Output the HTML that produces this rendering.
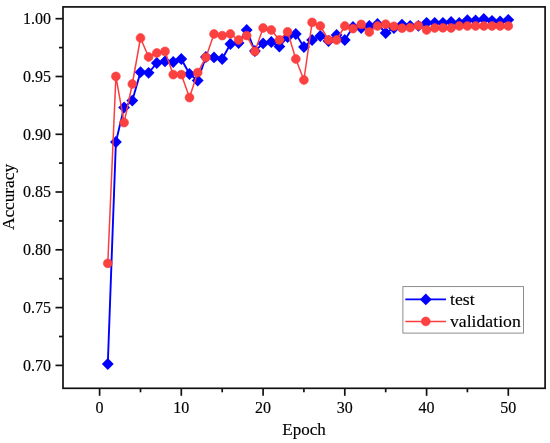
<!DOCTYPE html>
<html><head><meta charset="utf-8"><title>Accuracy</title>
<style>html,body{margin:0;padding:0;background:#fff}svg{display:block}text{font-family:"Liberation Serif","Times New Roman",serif;fill:#000;stroke:#000;stroke-width:0.15px}</style></head><body>
<svg width="550" height="443" viewBox="0 0 550 443">
<rect width="550" height="443" fill="#fff"/>
<polyline points="107.8,364.0 115.9,142.0 124.1,107.4 132.3,100.6 140.5,72.2 148.6,72.8 156.8,63.0 165.0,61.4 173.2,62.0 181.3,59.0 189.5,74.0 197.7,80.5 205.9,57.0 214.0,57.4 222.2,59.0 230.4,44.0 238.6,43.0 246.7,30.0 254.9,51.0 263.1,43.4 271.3,42.0 279.4,46.6 287.6,37.0 295.8,34.0 303.9,47.0 312.1,40.0 320.3,36.0 328.5,41.0 336.6,35.0 344.8,40.0 353.0,27.0 361.2,28.0 369.3,26.0 377.5,24.0 385.7,33.0 393.9,28.0 402.0,24.6 410.2,25.8 418.4,25.8 426.6,22.8 434.7,22.8 442.9,22.8 451.1,22.0 459.3,23.0 467.4,20.2 475.6,20.4 483.8,19.0 492.0,20.8 500.1,21.4 508.3,19.8" fill="none" stroke="#0000ff" stroke-width="1.9" stroke-linejoin="round"/>
<path d="M107.8 358.1L113.7 364.0L107.8 369.9L101.9 364.0Z" fill="#0000ff"/>
<path d="M115.9 136.1L121.8 142.0L115.9 147.9L110.0 142.0Z" fill="#0000ff"/>
<path d="M124.1 101.5L130.0 107.4L124.1 113.3L118.2 107.4Z" fill="#0000ff"/>
<path d="M132.3 94.7L138.2 100.6L132.3 106.5L126.4 100.6Z" fill="#0000ff"/>
<path d="M140.5 66.3L146.4 72.2L140.5 78.1L134.6 72.2Z" fill="#0000ff"/>
<path d="M148.6 66.9L154.5 72.8L148.6 78.7L142.7 72.8Z" fill="#0000ff"/>
<path d="M156.8 57.1L162.7 63.0L156.8 68.9L150.9 63.0Z" fill="#0000ff"/>
<path d="M165.0 55.5L170.9 61.4L165.0 67.3L159.1 61.4Z" fill="#0000ff"/>
<path d="M173.2 56.1L179.1 62.0L173.2 67.9L167.3 62.0Z" fill="#0000ff"/>
<path d="M181.3 53.1L187.2 59.0L181.3 64.9L175.4 59.0Z" fill="#0000ff"/>
<path d="M189.5 68.1L195.4 74.0L189.5 79.9L183.6 74.0Z" fill="#0000ff"/>
<path d="M197.7 74.6L203.6 80.5L197.7 86.4L191.8 80.5Z" fill="#0000ff"/>
<path d="M205.9 51.1L211.8 57.0L205.9 62.9L200.0 57.0Z" fill="#0000ff"/>
<path d="M214.0 51.5L219.9 57.4L214.0 63.3L208.1 57.4Z" fill="#0000ff"/>
<path d="M222.2 53.1L228.1 59.0L222.2 64.9L216.3 59.0Z" fill="#0000ff"/>
<path d="M230.4 38.1L236.3 44.0L230.4 49.9L224.5 44.0Z" fill="#0000ff"/>
<path d="M238.6 37.1L244.5 43.0L238.6 48.9L232.7 43.0Z" fill="#0000ff"/>
<path d="M246.7 24.1L252.6 30.0L246.7 35.9L240.8 30.0Z" fill="#0000ff"/>
<path d="M254.9 45.1L260.8 51.0L254.9 56.9L249.0 51.0Z" fill="#0000ff"/>
<path d="M263.1 37.5L269.0 43.4L263.1 49.3L257.2 43.4Z" fill="#0000ff"/>
<path d="M271.3 36.1L277.2 42.0L271.3 47.9L265.4 42.0Z" fill="#0000ff"/>
<path d="M279.4 40.7L285.3 46.6L279.4 52.5L273.5 46.6Z" fill="#0000ff"/>
<path d="M287.6 31.1L293.5 37.0L287.6 42.9L281.7 37.0Z" fill="#0000ff"/>
<path d="M295.8 28.1L301.7 34.0L295.8 39.9L289.9 34.0Z" fill="#0000ff"/>
<path d="M303.9 41.1L309.8 47.0L303.9 52.9L298.1 47.0Z" fill="#0000ff"/>
<path d="M312.1 34.1L318.0 40.0L312.1 45.9L306.2 40.0Z" fill="#0000ff"/>
<path d="M320.3 30.1L326.2 36.0L320.3 41.9L314.4 36.0Z" fill="#0000ff"/>
<path d="M328.5 35.1L334.4 41.0L328.5 46.9L322.6 41.0Z" fill="#0000ff"/>
<path d="M336.6 29.1L342.5 35.0L336.6 40.9L330.7 35.0Z" fill="#0000ff"/>
<path d="M344.8 34.1L350.7 40.0L344.8 45.9L338.9 40.0Z" fill="#0000ff"/>
<path d="M353.0 21.1L358.9 27.0L353.0 32.9L347.1 27.0Z" fill="#0000ff"/>
<path d="M361.2 22.1L367.1 28.0L361.2 33.9L355.3 28.0Z" fill="#0000ff"/>
<path d="M369.3 20.1L375.2 26.0L369.3 31.9L363.4 26.0Z" fill="#0000ff"/>
<path d="M377.5 18.1L383.4 24.0L377.5 29.9L371.6 24.0Z" fill="#0000ff"/>
<path d="M385.7 27.1L391.6 33.0L385.7 38.9L379.8 33.0Z" fill="#0000ff"/>
<path d="M393.9 22.1L399.8 28.0L393.9 33.9L388.0 28.0Z" fill="#0000ff"/>
<path d="M402.0 18.7L407.9 24.6L402.0 30.5L396.1 24.6Z" fill="#0000ff"/>
<path d="M410.2 19.9L416.1 25.8L410.2 31.7L404.3 25.8Z" fill="#0000ff"/>
<path d="M418.4 19.9L424.3 25.8L418.4 31.7L412.5 25.8Z" fill="#0000ff"/>
<path d="M426.6 16.9L432.5 22.8L426.6 28.7L420.7 22.8Z" fill="#0000ff"/>
<path d="M434.7 16.9L440.6 22.8L434.7 28.7L428.8 22.8Z" fill="#0000ff"/>
<path d="M442.9 16.9L448.8 22.8L442.9 28.7L437.0 22.8Z" fill="#0000ff"/>
<path d="M451.1 16.1L457.0 22.0L451.1 27.9L445.2 22.0Z" fill="#0000ff"/>
<path d="M459.3 17.1L465.2 23.0L459.3 28.9L453.4 23.0Z" fill="#0000ff"/>
<path d="M467.4 14.3L473.3 20.2L467.4 26.1L461.5 20.2Z" fill="#0000ff"/>
<path d="M475.6 14.5L481.5 20.4L475.6 26.3L469.7 20.4Z" fill="#0000ff"/>
<path d="M483.8 13.1L489.7 19.0L483.8 24.9L477.9 19.0Z" fill="#0000ff"/>
<path d="M492.0 14.9L497.9 20.8L492.0 26.7L486.1 20.8Z" fill="#0000ff"/>
<path d="M500.1 15.5L506.0 21.4L500.1 27.3L494.2 21.4Z" fill="#0000ff"/>
<path d="M508.3 13.9L514.2 19.8L508.3 25.7L502.4 19.8Z" fill="#0000ff"/>
<polyline points="107.8,263.4 115.9,76.4 124.1,122.6 132.3,84.0 140.5,38.0 148.6,57.0 156.8,53.0 165.0,51.4 173.2,74.6 181.3,74.6 189.5,97.6 197.7,72.6 205.9,57.4 214.0,34.0 222.2,35.6 230.4,34.0 238.6,40.0 246.7,35.6 254.9,51.4 263.1,28.0 271.3,30.0 279.4,40.0 287.6,31.8 295.8,59.0 303.9,80.0 312.1,22.4 320.3,26.0 328.5,40.0 336.6,40.0 344.8,26.0 353.0,28.6 361.2,24.4 369.3,32.0 377.5,26.0 385.7,24.2 393.9,26.3 402.0,28.2 410.2,27.6 418.4,25.6 426.6,30.0 434.7,28.0 442.9,27.8 451.1,28.0 459.3,26.0 467.4,26.0 475.6,26.0 483.8,26.0 492.0,26.0 500.1,26.0 508.3,26.0" fill="none" stroke="#fb3d3d" stroke-width="1.5" stroke-linejoin="round"/>
<circle cx="107.8" cy="263.4" r="4.4" fill="#fc4141" stroke="#fd3434" stroke-width="0.6"/>
<circle cx="115.9" cy="76.4" r="4.4" fill="#fc4141" stroke="#fd3434" stroke-width="0.6"/>
<circle cx="124.1" cy="122.6" r="4.4" fill="#fc4141" stroke="#fd3434" stroke-width="0.6"/>
<circle cx="132.3" cy="84.0" r="4.4" fill="#fc4141" stroke="#fd3434" stroke-width="0.6"/>
<circle cx="140.5" cy="38.0" r="4.4" fill="#fc4141" stroke="#fd3434" stroke-width="0.6"/>
<circle cx="148.6" cy="57.0" r="4.4" fill="#fc4141" stroke="#fd3434" stroke-width="0.6"/>
<circle cx="156.8" cy="53.0" r="4.4" fill="#fc4141" stroke="#fd3434" stroke-width="0.6"/>
<circle cx="165.0" cy="51.4" r="4.4" fill="#fc4141" stroke="#fd3434" stroke-width="0.6"/>
<circle cx="173.2" cy="74.6" r="4.4" fill="#fc4141" stroke="#fd3434" stroke-width="0.6"/>
<circle cx="181.3" cy="74.6" r="4.4" fill="#fc4141" stroke="#fd3434" stroke-width="0.6"/>
<circle cx="189.5" cy="97.6" r="4.4" fill="#fc4141" stroke="#fd3434" stroke-width="0.6"/>
<circle cx="197.7" cy="72.6" r="4.4" fill="#fc4141" stroke="#fd3434" stroke-width="0.6"/>
<circle cx="205.9" cy="57.4" r="4.4" fill="#fc4141" stroke="#fd3434" stroke-width="0.6"/>
<circle cx="214.0" cy="34.0" r="4.4" fill="#fc4141" stroke="#fd3434" stroke-width="0.6"/>
<circle cx="222.2" cy="35.6" r="4.4" fill="#fc4141" stroke="#fd3434" stroke-width="0.6"/>
<circle cx="230.4" cy="34.0" r="4.4" fill="#fc4141" stroke="#fd3434" stroke-width="0.6"/>
<circle cx="238.6" cy="40.0" r="4.4" fill="#fc4141" stroke="#fd3434" stroke-width="0.6"/>
<circle cx="246.7" cy="35.6" r="4.4" fill="#fc4141" stroke="#fd3434" stroke-width="0.6"/>
<circle cx="254.9" cy="51.4" r="4.4" fill="#fc4141" stroke="#fd3434" stroke-width="0.6"/>
<circle cx="263.1" cy="28.0" r="4.4" fill="#fc4141" stroke="#fd3434" stroke-width="0.6"/>
<circle cx="271.3" cy="30.0" r="4.4" fill="#fc4141" stroke="#fd3434" stroke-width="0.6"/>
<circle cx="279.4" cy="40.0" r="4.4" fill="#fc4141" stroke="#fd3434" stroke-width="0.6"/>
<circle cx="287.6" cy="31.8" r="4.4" fill="#fc4141" stroke="#fd3434" stroke-width="0.6"/>
<circle cx="295.8" cy="59.0" r="4.4" fill="#fc4141" stroke="#fd3434" stroke-width="0.6"/>
<circle cx="303.9" cy="80.0" r="4.4" fill="#fc4141" stroke="#fd3434" stroke-width="0.6"/>
<circle cx="312.1" cy="22.4" r="4.4" fill="#fc4141" stroke="#fd3434" stroke-width="0.6"/>
<circle cx="320.3" cy="26.0" r="4.4" fill="#fc4141" stroke="#fd3434" stroke-width="0.6"/>
<circle cx="328.5" cy="40.0" r="4.4" fill="#fc4141" stroke="#fd3434" stroke-width="0.6"/>
<circle cx="336.6" cy="40.0" r="4.4" fill="#fc4141" stroke="#fd3434" stroke-width="0.6"/>
<circle cx="344.8" cy="26.0" r="4.4" fill="#fc4141" stroke="#fd3434" stroke-width="0.6"/>
<circle cx="353.0" cy="28.6" r="4.4" fill="#fc4141" stroke="#fd3434" stroke-width="0.6"/>
<circle cx="361.2" cy="24.4" r="4.4" fill="#fc4141" stroke="#fd3434" stroke-width="0.6"/>
<circle cx="369.3" cy="32.0" r="4.4" fill="#fc4141" stroke="#fd3434" stroke-width="0.6"/>
<circle cx="377.5" cy="26.0" r="4.4" fill="#fc4141" stroke="#fd3434" stroke-width="0.6"/>
<circle cx="385.7" cy="24.2" r="4.4" fill="#fc4141" stroke="#fd3434" stroke-width="0.6"/>
<circle cx="393.9" cy="26.3" r="4.4" fill="#fc4141" stroke="#fd3434" stroke-width="0.6"/>
<circle cx="402.0" cy="28.2" r="4.4" fill="#fc4141" stroke="#fd3434" stroke-width="0.6"/>
<circle cx="410.2" cy="27.6" r="4.4" fill="#fc4141" stroke="#fd3434" stroke-width="0.6"/>
<circle cx="418.4" cy="25.6" r="4.4" fill="#fc4141" stroke="#fd3434" stroke-width="0.6"/>
<circle cx="426.6" cy="30.0" r="4.4" fill="#fc4141" stroke="#fd3434" stroke-width="0.6"/>
<circle cx="434.7" cy="28.0" r="4.4" fill="#fc4141" stroke="#fd3434" stroke-width="0.6"/>
<circle cx="442.9" cy="27.8" r="4.4" fill="#fc4141" stroke="#fd3434" stroke-width="0.6"/>
<circle cx="451.1" cy="28.0" r="4.4" fill="#fc4141" stroke="#fd3434" stroke-width="0.6"/>
<circle cx="459.3" cy="26.0" r="4.4" fill="#fc4141" stroke="#fd3434" stroke-width="0.6"/>
<circle cx="467.4" cy="26.0" r="4.4" fill="#fc4141" stroke="#fd3434" stroke-width="0.6"/>
<circle cx="475.6" cy="26.0" r="4.4" fill="#fc4141" stroke="#fd3434" stroke-width="0.6"/>
<circle cx="483.8" cy="26.0" r="4.4" fill="#fc4141" stroke="#fd3434" stroke-width="0.6"/>
<circle cx="492.0" cy="26.0" r="4.4" fill="#fc4141" stroke="#fd3434" stroke-width="0.6"/>
<circle cx="500.1" cy="26.0" r="4.4" fill="#fc4141" stroke="#fd3434" stroke-width="0.6"/>
<circle cx="508.3" cy="26.0" r="4.4" fill="#fc4141" stroke="#fd3434" stroke-width="0.6"/>
<rect x="63.0" y="6.9" width="482.1" height="381.4" fill="none" stroke="#111" stroke-width="1.7"/>
<line x1="55.5" y1="18.7" x2="63.0" y2="18.7" stroke="#111" stroke-width="1.7"/>
<text x="51" y="23.9" font-size="16" text-anchor="end">1.00</text>
<line x1="59.0" y1="47.6" x2="63.0" y2="47.6" stroke="#111" stroke-width="1.7"/>
<line x1="55.5" y1="76.5" x2="63.0" y2="76.5" stroke="#111" stroke-width="1.7"/>
<text x="51" y="81.7" font-size="16" text-anchor="end">0.95</text>
<line x1="59.0" y1="105.4" x2="63.0" y2="105.4" stroke="#111" stroke-width="1.7"/>
<line x1="55.5" y1="134.3" x2="63.0" y2="134.3" stroke="#111" stroke-width="1.7"/>
<text x="51" y="139.5" font-size="16" text-anchor="end">0.90</text>
<line x1="59.0" y1="163.1" x2="63.0" y2="163.1" stroke="#111" stroke-width="1.7"/>
<line x1="55.5" y1="192.0" x2="63.0" y2="192.0" stroke="#111" stroke-width="1.7"/>
<text x="51" y="197.2" font-size="16" text-anchor="end">0.85</text>
<line x1="59.0" y1="220.9" x2="63.0" y2="220.9" stroke="#111" stroke-width="1.7"/>
<line x1="55.5" y1="249.8" x2="63.0" y2="249.8" stroke="#111" stroke-width="1.7"/>
<text x="51" y="255.0" font-size="16" text-anchor="end">0.80</text>
<line x1="59.0" y1="278.7" x2="63.0" y2="278.7" stroke="#111" stroke-width="1.7"/>
<line x1="55.5" y1="307.6" x2="63.0" y2="307.6" stroke="#111" stroke-width="1.7"/>
<text x="51" y="312.8" font-size="16" text-anchor="end">0.75</text>
<line x1="59.0" y1="336.5" x2="63.0" y2="336.5" stroke="#111" stroke-width="1.7"/>
<line x1="55.5" y1="365.4" x2="63.0" y2="365.4" stroke="#111" stroke-width="1.7"/>
<text x="51" y="370.6" font-size="16" text-anchor="end">0.70</text>
<line x1="99.6" y1="388.3" x2="99.6" y2="395.8" stroke="#111" stroke-width="1.7"/>
<text x="99.6" y="413.4" font-size="16" text-anchor="middle">0</text>
<line x1="181.3" y1="388.3" x2="181.3" y2="395.8" stroke="#111" stroke-width="1.7"/>
<text x="181.3" y="413.4" font-size="16" text-anchor="middle">10</text>
<line x1="263.1" y1="388.3" x2="263.1" y2="395.8" stroke="#111" stroke-width="1.7"/>
<text x="263.1" y="413.4" font-size="16" text-anchor="middle">20</text>
<line x1="344.8" y1="388.3" x2="344.8" y2="395.8" stroke="#111" stroke-width="1.7"/>
<text x="344.8" y="413.4" font-size="16" text-anchor="middle">30</text>
<line x1="426.6" y1="388.3" x2="426.6" y2="395.8" stroke="#111" stroke-width="1.7"/>
<text x="426.6" y="413.4" font-size="16" text-anchor="middle">40</text>
<line x1="508.3" y1="388.3" x2="508.3" y2="395.8" stroke="#111" stroke-width="1.7"/>
<text x="508.3" y="413.4" font-size="16" text-anchor="middle">50</text>
<line x1="140.5" y1="388.3" x2="140.5" y2="392.3" stroke="#111" stroke-width="1.7"/>
<line x1="222.2" y1="388.3" x2="222.2" y2="392.3" stroke="#111" stroke-width="1.7"/>
<line x1="303.9" y1="388.3" x2="303.9" y2="392.3" stroke="#111" stroke-width="1.7"/>
<line x1="385.7" y1="388.3" x2="385.7" y2="392.3" stroke="#111" stroke-width="1.7"/>
<line x1="467.4" y1="388.3" x2="467.4" y2="392.3" stroke="#111" stroke-width="1.7"/>
<text x="304" y="434.7" font-size="17" text-anchor="middle">Epoch</text>
<text transform="translate(14.3,197) rotate(-90)" font-size="17.3" text-anchor="middle">Accuracy</text>
<rect x="402.9" y="286.6" width="120.6" height="46.5" fill="#fff" stroke="#808080" stroke-width="0.9"/>
<line x1="405.3" y1="299.4" x2="446" y2="299.4" stroke="#0000ff" stroke-width="1.9"/>
<path d="M425.8 293.5L431.7 299.4L425.8 305.3L419.9 299.4Z" fill="#0000ff"/>
<text x="450" y="304.9" font-size="17.7">test</text>
<line x1="405.3" y1="321.4" x2="446" y2="321.4" stroke="#fb3d3d" stroke-width="1.5"/>
<circle cx="425.8" cy="321.4" r="4.4" fill="#fc4141" stroke="#fd3434" stroke-width="0.6"/>
<text x="450" y="326.9" font-size="17.7">validation</text>
</svg></body></html>
